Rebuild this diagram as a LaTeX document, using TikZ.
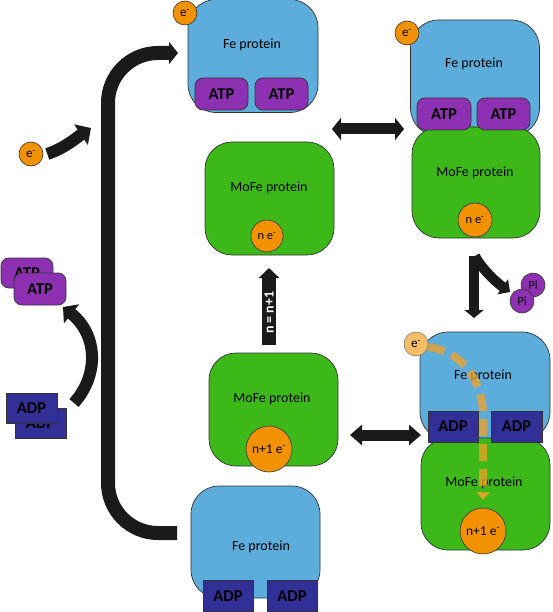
\documentclass[tikz,border=0pt]{standalone}
\usepackage{fontspec}
\setmainfont{Carlito}
\usepackage{tikz}
\usetikzlibrary{arrows.meta,positioning}

\definecolor{feblue}{RGB}{92,173,220}
\definecolor{mofegreen}{RGB}{60,184,24}
\definecolor{atppurple}{RGB}{142,48,178}
\definecolor{adpblue}{RGB}{50,48,150}
\definecolor{eorange}{RGB}{243,146,0}
\definecolor{arrowblack}{RGB}{26,26,26}

\begin{document}
\begin{tikzpicture}[x=1pt,y=-1pt,>=Latex, every node/.style={font=\fontsize{14}{16}\selectfont}]
\tikzstyle{fe}=[draw=black!80, line width=0.7pt, fill=feblue, rounded corners=28pt, minimum width=130pt, minimum height=113pt]
\tikzstyle{mofe}=[draw=black!80, line width=0.7pt, fill=mofegreen, rounded corners=27pt, minimum width=129pt, minimum height=113pt]
\tikzstyle{atp}=[draw=black!80, line width=0.7pt, fill=atppurple, rounded corners=8pt, minimum width=53pt, minimum height=32pt, font=\fontsize{16.5}{18}\selectfont\bfseries]
\tikzstyle{adp}=[draw=black!80, line width=0.7pt, fill=adpblue, minimum width=50pt, minimum height=31pt, font=\fontsize{16.5}{18}\selectfont\bfseries]
\tikzstyle{elec}=[circle, draw=black!80, line width=0.6pt, fill=eorange, minimum size=24pt, inner sep=0pt, font=\fontsize{13}{14}\selectfont]
\tikzstyle{pool}=[circle, draw=black!80, line width=0.6pt, fill=eorange, inner sep=0pt, font=\fontsize{13.5}{15}\selectfont]
\tikzstyle{pi}=[circle, draw=black!80, line width=0.6pt, fill=atppurple, minimum size=24pt, inner sep=0pt, font=\fontsize{12.5}{13}\selectfont]
\tikzstyle{blk}=[draw=arrowblack, line width=14pt]
\useasboundingbox (0,0) rectangle (552,612);

% free electron and nucleotide pools
\node[elec] (e0) at (31,154) {e\textsuperscript{-}};
\node[atp, minimum width=52pt, minimum height=30pt] (atpb) at (27,273) {ATP};
\node[atp, minimum width=52pt] (atpf) at (40,289) {ATP};
\node[adp, minimum width=51pt, minimum height=30pt] (adpb) at (40.5,423) {ADP};
\node[adp, minimum width=51pt, minimum height=30pt] (adpf) at (31.5,408) {ADP};

% Fe protein with e- and ATP
\node[fe] (fe1) at (253,56) {};
\node (fe1t) at (252,45) {Fe protein};
\node[atp] (atp1a) at (221.5,94) {ATP};
\node[atp] (atp1b) at (281.5,94) {ATP};
\node[elec] (e1) at (185,13) {e\textsuperscript{-}};

% complex, ATP bound
\node[fe, minimum width=129pt, minimum height=116pt] (fe2) at (475,78) {};
\node (fe2t) at (474,64) {Fe protein};
\node[mofe, minimum width=128pt, minimum height=111pt] (mofe2) at (476,182.5) {};
\node (mofe2t) at (475,173) {MoFe protein};
\node[atp, minimum width=54pt] (atp2a) at (444,114) {ATP};
\node[atp] (atp2b) at (503.5,114) {ATP};
\node[elec] (e2) at (407,33) {e\textsuperscript{-}};
\node[pool, minimum size=34pt, font=\fontsize{12.5}{13}\selectfont] (ne2) at (475,220) {n e\textsuperscript{-}};

% MoFe protein, n electrons
\node[mofe] (mofe1) at (269.5,198.5) {};
\node (mofe1t) at (269,188) {MoFe protein};
\node[pool, minimum size=32pt, font=\fontsize{12.5}{13}\selectfont] (ne1) at (267,236) {n e\textsuperscript{-}};

% MoFe protein, n+1 electrons
\node[mofe] (mofe3) at (273.5,409.5) {};
\node (mofe3t) at (272,399) {MoFe protein};
\node[pool, minimum size=46pt] (np3) at (269,449) {n+1 e\textsuperscript{-}};

% Fe protein with ADP
\node[fe, minimum width=129pt, minimum height=112pt] (fe3) at (255.5,542) {};
\node (fe3t) at (261,547) {Fe protein};
\node[adp] (adp3a) at (228,596) {ADP};
\node[adp] (adp3b) at (292,596) {ADP};

% complex, ADP bound
\node[fe, minimum height=108pt] (fe4) at (485,386) {};
\node (fe4t) at (483,376) {Fe protein};
\node[mofe, minimum height=112pt] (mofe4) at (485.5,494) {};
\node (mofe4t) at (484,483) {MoFe protein};
\node[adp] (adp4a) at (453,426.5) {ADP};
\node[adp, minimum width=51pt] (adp4b) at (516.5,426.5) {ADP};
\node[pool, minimum size=46pt] (np4) at (483,531) {n+1 e\textsuperscript{-}};
\node[elec, fill=eorange!60, draw=black!50] (e4) at (416,344) {e\textsuperscript{-}};

% phosphate
\node[pi] (pi1) at (533,285) {Pi};
\node[pi] (pi2) at (522,301) {Pi};

% arrow ends
\coordinate (c1) at (177,533);
\coordinate (c0) at (108,53);
\coordinate (c2) at (178,53);
\coordinate (ea) at (91,128);
\coordinate (ra) at (74,403);
\coordinate (rb) at (63,307);
\coordinate (d1) at (332,129);
\coordinate (d2) at (404,129);
\coordinate (d3) at (350,435);
\coordinate (d4) at (421,435);
\coordinate (u1) at (269,345);
\coordinate (u2) at (269,268);
\coordinate (p1) at (474,256);
\coordinate (p2) at (474,318);
\coordinate (p3) at (510,292);
\coordinate (t1) at (428,347);
\coordinate (t2) at (483,500);

\draw[blk, rounded corners=50pt, -{Triangle[length=9pt,width=22pt]}] (c1) -| (c0) -- (c2);
\draw[blk, line width=12pt, -{Triangle[length=12pt,width=24pt]}] ([xshift=4pt]e0.east) .. controls (65,148) and (76,138) .. (ea);
\draw[blk, line width=12pt, -{Triangle[length=11pt,width=24pt]}] (ra) .. controls (99,375) and (98,335) .. (rb);
\draw[blk, line width=11pt, {Triangle[length=9pt,width=22pt]}-{Triangle[length=9pt,width=22pt]}] (d1) -- (d2);
\draw[blk, line width=11pt, {Triangle[length=12pt,width=20pt]}-{Triangle[length=12pt,width=20pt]}] (d3) -- (d4);
\draw[blk, -{Triangle[length=10pt,width=20pt]}] (u1) -- node[rotate=90, text=white, font=\fontsize{14}{15}\selectfont\bfseries, pos=0.42] (nn) {n = n+1} (u2);
\draw[blk, line width=10pt, -{Triangle[length=8pt,width=19pt]}] (p1) -- (p2);
\draw[blk, line width=10pt, -{Triangle[length=9pt,width=18pt]}] ([xshift=1pt]p1) .. controls (480,266) and (493,280) .. (p3);
\draw[draw=eorange!85!white, opacity=0.75, line width=8pt, dash pattern=on 17pt off 8pt, -{Triangle[length=8pt,width=13pt]}] (t1) .. controls (466,352) and (483,385) .. (483,415) -- (t2);
\end{tikzpicture}
\end{document}
